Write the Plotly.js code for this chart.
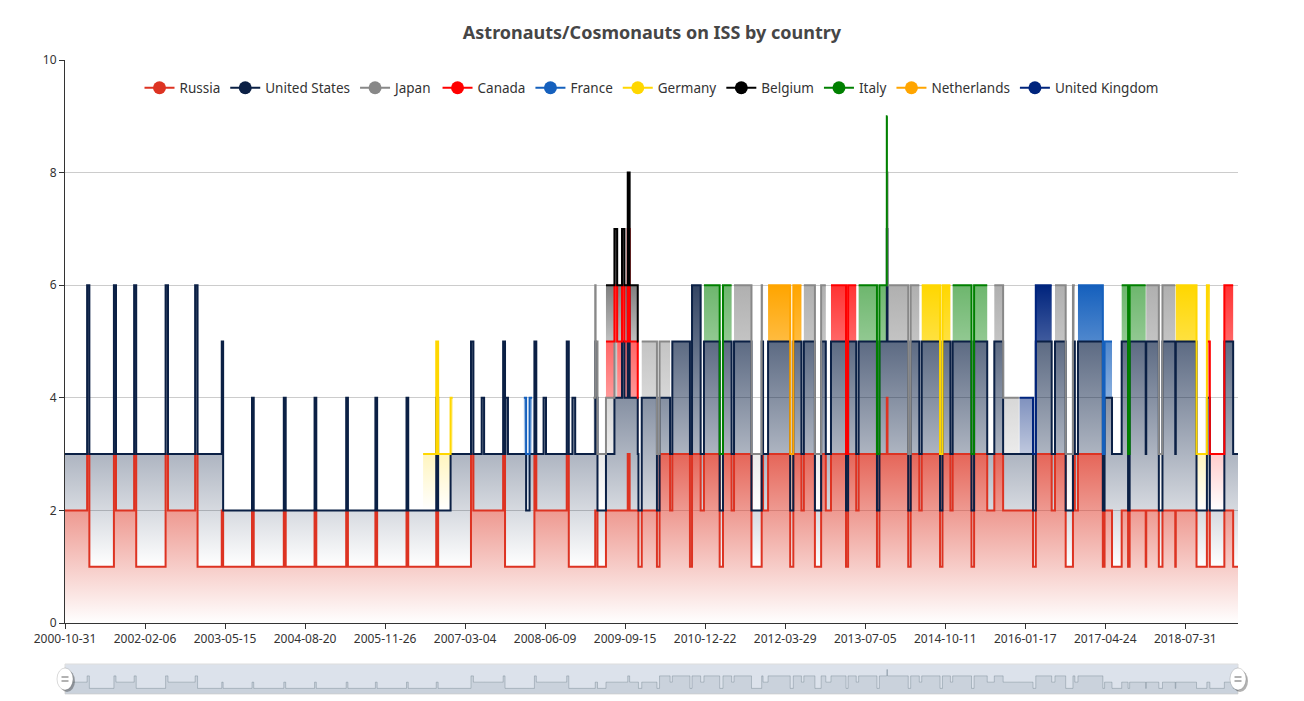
<!DOCTYPE html>
<html>
<head>
<meta charset="utf-8">
<script src="https://cdn.plot.ly/plotly-3.0.1.min.js"></script>
<style>html,body{margin:0;padding:0;background:#fff}#chart{width:1304px;height:701px}</style>
</head>
<body>
<div id="chart"></div>
<script>
// Start date of each crew configuration (value holds until the next date)
const dates = [
"2000-10-31","2001-03-08","2001-03-21","2001-08-10","2001-08-22","2001-12-05","2001-12-17","2002-06-05","2002-06-19","2002-11-23",
"2002-12-07","2003-04-26","2003-05-04","2003-10-18","2003-10-28","2004-04-19","2004-04-30","2004-10-14","2004-10-24","2005-04-15",
"2005-04-25","2005-10-01","2005-10-11","2006-03-30","2006-04-09","2006-07-04","2006-09-18","2006-09-29","2006-12-10","2006-12-22",
"2007-04-07","2007-04-21","2007-06-08","2007-06-22","2007-10-10","2007-10-21","2007-10-23","2007-11-07","2008-02-07","2008-02-20",
"2008-03-11","2008-03-26","2008-04-08","2008-04-19","2008-05-31","2008-06-14","2008-10-12","2008-10-24","2008-11-14","2008-11-30",
"2009-03-15","2009-03-26","2009-03-28","2009-04-08","2009-05-27","2009-07-15","2009-07-31","2009-08-28","2009-09-11","2009-09-30",
"2009-10-11","2009-11-27","2009-12-01","2009-12-20","2010-03-18","2010-04-02","2010-06-02","2010-06-15","2010-09-25","2010-10-07",
"2010-11-26","2010-12-15","2011-03-16","2011-04-04","2011-05-24","2011-06-07","2011-09-16","2011-11-14","2011-11-22","2011-12-21",
"2012-04-27","2012-05-15","2012-07-01","2012-07-15","2012-09-17","2012-10-23","2012-11-19","2012-12-19","2013-03-16","2013-03-28",
"2013-05-14","2013-05-28","2013-09-11","2013-09-25","2013-11-07","2013-11-11","2014-03-11","2014-03-25","2014-05-14","2014-05-28",
"2014-09-11","2014-09-25","2014-11-10","2014-11-23","2015-03-12","2015-03-27","2015-06-11","2015-07-22","2015-09-11","2015-12-11",
"2015-12-15","2016-03-02","2016-03-18","2016-06-18","2016-07-07","2016-09-07","2016-10-19","2016-10-30","2016-11-17","2017-04-10",
"2017-04-20","2017-06-02","2017-07-28","2017-09-03","2017-09-12","2017-12-14","2017-12-17","2018-02-28","2018-03-21","2018-06-03",
"2018-06-06","2018-10-04","2018-12-03","2018-12-20","2019-03-14","2019-05-04","2019-06-01"];

const russia = [
2,3,1,3,2,3,1,3,2,3, 1,2,1,2,1,2,1,2,1,2, 1,2,1,2,1,1,2,1,1,1, 3,2,2,2,3,1,1,1,1,1,
1,1,3,2,2,2,3,1,1,1, 1,2,2,1,2,2,2,2,2,3, 2,2,1,2,1,3,2,3,1,3, 2,3,1,3,2,3,1,3,2,3,
1,3,2,3,1,3,2,3,1,3, 2,3,1,3,4,3,1,3,2,3, 1,3,2,3,1,3,2,3,2,2, 2,1,3,2,3,1,3,2,3,1,
2,1,2,1,2,1,2,1,2,1, 2,1,2,1,2,1,1];
const unitedStates = [
1,3,2,3,1,3,2,3,1,3, 2,3,1,2,1,2,1,2,1,2, 1,2,1,2,1,1,2,1,2,2, 2,1,2,1,2,2,3,2,2,1,
2,2,2,1,2,1,2,2,3,2, 2,3,2,1,1,2,2,3,2,3, 2,1,1,2,1,1,1,2,2,3, 1,2,1,2,1,2,1,2,1,2,
1,2,1,2,1,2,1,2,1,2, 1,2,1,2,3,2,1,2,1,2, 1,2,1,2,1,2,1,2,1,1, 1,1,2,1,2,1,2,1,2,1,
2,2,3,1,3,2,3,1,3,2, 3,1,2,1,3,2,2];
const japan = [
0,0,0,0,0,0,0,0,0,0, 0,0,0,0,0,0,0,0,0,0, 0,0,0,0,0,0,0,0,0,0, 0,0,0,0,0,0,0,0,0,0,
0,0,0,0,0,0,0,0,0,0, 1,1,1,1,1,1,0,0,0,0, 0,0,0,1,1,1,0,0,0,0, 0,0,0,0,0,1,1,1,0,0,
0,0,0,1,1,1,0,0,0,0, 0,0,0,0,1,1,1,1,0,0, 0,0,0,0,0,0,0,1,1,0, 0,0,0,0,1,1,1,0,0,0,
0,0,0,0,0,0,1,1,1,0, 0,0,0,0,0,0,0];
const canada = [
0,0,0,0,0,0,0,0,0,0, 0,0,0,0,0,0,0,0,0,0, 0,0,0,0,0,0,0,0,0,0, 0,0,0,0,0,0,0,0,0,0,
0,0,0,0,0,0,0,0,0,0, 0,0,0,0,1,1,1,1,1,1, 1,1,0,0,0,0,0,0,0,0, 0,0,0,0,0,0,0,0,0,0,
0,0,0,0,0,0,0,1,1,1, 0,0,0,0,0,0,0,0,0,0, 0,0,0,0,0,0,0,0,0,0, 0,0,0,0,0,0,0,0,0,0,
0,0,0,0,0,0,0,0,0,0, 0,0,1,1,1,0,0];
const france = [
0,0,0,0,0,0,0,0,0,0, 0,0,0,0,0,0,0,0,0,0, 0,0,0,0,0,0,0,0,0,0, 0,0,0,0,0,0,0,0,1,1,
1,0,0,0,0,0,0,0,0,0, 0,0,0,0,0,0,0,0,0,0, 0,0,0,0,0,0,0,0,0,0, 0,0,0,0,0,0,0,0,0,0,
0,0,0,0,0,0,0,0,0,0, 0,0,0,0,0,0,0,0,0,0, 0,0,0,0,0,0,0,0,0,0, 0,0,0,0,0,0,0,0,1,1,
1,0,0,0,0,0,0,0,0,0, 0,0,0,0,0,0,0];
const germany = [
0,0,0,0,0,0,0,0,0,0, 0,0,0,0,0,0,0,0,0,0, 0,0,0,0,0,1,1,1,1,0, 0,0,0,0,0,0,0,0,0,0,
0,0,0,0,0,0,0,0,0,0, 0,0,0,0,0,0,0,0,0,0, 0,0,0,0,0,0,0,0,0,0, 0,0,0,0,0,0,0,0,0,0,
0,0,0,0,0,0,0,0,0,0, 0,0,0,0,0,0,0,0,0,1, 1,1,0,0,0,0,0,0,0,0, 0,0,0,0,0,0,0,0,0,0,
0,0,0,0,0,0,0,0,0,0, 1,1,1,0,0,0,0];
const belgium = [
0,0,0,0,0,0,0,0,0,0, 0,0,0,0,0,0,0,0,0,0, 0,0,0,0,0,0,0,0,0,0, 0,0,0,0,0,0,0,0,0,0,
0,0,0,0,0,0,0,0,0,0, 0,0,0,0,1,1,1,1,1,1, 1,1,0,0,0,0,0,0,0,0, 0,0,0,0,0,0,0,0,0,0,
0,0,0,0,0,0,0,0,0,0, 0,0,0,0,0,0,0,0,0,0, 0,0,0,0,0,0,0,0,0,0, 0,0,0,0,0,0,0,0,0,0,
0,0,0,0,0,0,0,0,0,0, 0,0,0,0,0,0,0];
const italy = [
0,0,0,0,0,0,0,0,0,0, 0,0,0,0,0,0,0,0,0,0, 0,0,0,0,0,0,0,0,0,0, 0,0,0,0,0,0,0,0,0,0,
0,0,0,0,0,0,0,0,0,0, 0,0,0,0,0,0,0,0,0,0, 0,0,0,0,0,0,0,0,0,0, 0,1,1,1,0,0,0,0,0,0,
0,0,0,0,0,0,0,0,0,0, 0,1,1,1,1,0,0,0,0,0, 0,0,0,1,1,1,0,0,0,0, 0,0,0,0,0,0,0,0,0,0,
0,0,1,1,1,0,0,0,0,0, 0,0,0,0,0,0,0];
const netherlands = [
0,0,0,0,0,0,0,0,0,0, 0,0,0,0,0,0,0,0,0,0, 0,0,0,0,0,0,0,0,0,0, 0,0,0,0,0,0,0,0,0,0,
0,0,0,0,0,0,0,0,0,0, 0,0,0,0,0,0,0,0,0,0, 0,0,0,0,0,0,0,0,0,0, 0,0,0,0,0,0,0,0,0,1,
1,1,0,0,0,0,0,0,0,0, 0,0,0,0,0,0,0,0,0,0, 0,0,0,0,0,0,0,0,0,0, 0,0,0,0,0,0,0,0,0,0,
0,0,0,0,0,0,0,0,0,0, 0,0,0,0,0,0,0];
const unitedKingdom = [
0,0,0,0,0,0,0,0,0,0, 0,0,0,0,0,0,0,0,0,0, 0,0,0,0,0,0,0,0,0,0, 0,0,0,0,0,0,0,0,0,0,
0,0,0,0,0,0,0,0,0,0, 0,0,0,0,0,0,0,0,0,0, 0,0,0,0,0,0,0,0,0,0, 0,0,0,0,0,0,0,0,0,0,
0,0,0,0,0,0,0,0,0,0, 0,0,0,0,0,0,0,0,0,0, 0,0,0,0,0,0,0,0,0,0, 1,1,1,0,0,0,0,0,0,0,
0,0,0,0,0,0,0,0,0,0, 0,0,0,0,0,0,0];

const countryNames = ["Russia","United States","Japan","Canada","France","Germany","Belgium","Italy","Netherlands","United Kingdom"];
const countryValues = [russia, unitedStates, japan, canada, france, germany, belgium, italy, netherlands, unitedKingdom];
const countryColors = ["#dd3322","#0b2045","#888888","#ff0000","#1560bd","#ffd700","#000000","#008000","#ffa500","#00247d"];

const tickDates = ["2000-10-31","2002-02-06","2003-05-15","2004-08-20","2005-11-26","2007-03-04","2008-06-09",
  "2009-09-15","2010-12-22","2012-03-29","2013-07-05","2014-10-11","2016-01-17","2017-04-24","2018-07-31"];
const xRange = ["2000-10-31","2019-06-01"];

function rgbOf(hex){
  const h = hex.replace('#','');
  return [0,2,4].map(i=>parseInt(h.substr(i,2),16)).join(',');
}

const n = dates.length;
let base = dates.map(()=>0);
const fillTraces = [], lineTraces = [], legendTraces = [];
countryNames.forEach((name, ci)=>{
  const vals = countryValues[ci];
  const col = countryColors[ci];
  const rgb = rgbOf(col);
  const top = base.map((b,i)=>b+vals[i]);
  let lo = Infinity, hi = -Infinity;
  vals.forEach((v,i)=>{ if(v>0){ lo=Math.min(lo,base[i]); hi=Math.max(hi,top[i]); } });
  fillTraces.push({
    type:'scatter', x:dates, y:vals, stackgroup:'crew', mode:'lines',
    line:{width:0, shape:'hv'},
    fillgradient:{type:'vertical', start:lo, stop:hi,
      colorscale:[[0,'rgba('+rgb+',0)'],[1,'rgba('+rgb+',1)']]},
    showlegend:false, hoverinfo:'skip', legendgroup:name
  });
  const lx=[], ly=[];
  for(let i=0;i<n;i++){
    if(vals[i]>0){ lx.push(dates[i]); ly.push(top[i]); }
    else if(i>0 && vals[i-1]>0){ lx.push(dates[i]); ly.push(top[i-1]); lx.push(dates[i]); ly.push(null); }
  }
  lineTraces.push({
    type:'scatter', x:lx, y:ly, mode:'lines', connectgaps:false,
    line:{color:col, width:2, shape:'hv'}, showlegend:false, hoverinfo:'skip', legendgroup:name
  });
  legendTraces.push({
    type:'scatter', x:[null], y:[null], mode:'lines+markers', name:name, legendgroup:name,
    line:{color:col, width:2}, marker:{color:col, size:13}
  });
  base = top;
});

// data shadow in the zoom slider (first series)
const shadowTrace = {
  type:'scatter', x:dates, y:russia, xaxis:'x2', yaxis:'y2', mode:'lines',
  line:{shape:'hv', color:'rgba(47,69,84,0.3)', width:0.8}, fill:'tozeroy',
  fillcolor:'rgba(47,69,84,0.10)', showlegend:false, hoverinfo:'skip'
};

function handle(xp){
  return [
    {type:'circle', xref:'paper', yref:'y2 domain', xsizemode:'pixel', ysizemode:'pixel',
      xanchor:xp, yanchor:0.5, x0:-6, x1:10, y0:-13, y1:9, fillcolor:'rgba(0,0,0,0.30)', line:{width:0}},
    {type:'circle', xref:'paper', yref:'y2 domain', xsizemode:'pixel', ysizemode:'pixel',
      xanchor:xp, yanchor:0.5, x0:-8, x1:8, y0:-11, y1:11, fillcolor:'#ffffff', line:{color:'rgba(0,0,0,0.15)', width:1}},
    {type:'line', xref:'paper', yref:'y2 domain', xsizemode:'pixel', ysizemode:'pixel',
      xanchor:xp, yanchor:0.5, x0:-3.5, x1:3.5, y0:2, y1:2, line:{color:'#888', width:1.3}},
    {type:'line', xref:'paper', yref:'y2 domain', xsizemode:'pixel', ysizemode:'pixel',
      xanchor:xp, yanchor:0.5, x0:-3.5, x1:3.5, y0:-2, y1:-2, line:{color:'#888', width:1.3}}
  ];
}

const fontFam = '"Noto Sans", "Open Sans", sans-serif';
const layout = {
  width:1304, height:701,
  margin:{l:65, r:66, t:60, b:7},
  paper_bgcolor:'#ffffff', plot_bgcolor:'#ffffff',
  font:{family:fontFam, color:'#333', size:12},
  title:{text:'Astronauts/Cosmonauts on ISS by country', x:0.5, xanchor:'center',
    y:1-33/701, yanchor:'middle', yref:'container',
    font:{family:fontFam, size:18, weight:700, color:'#464646'}},
  showlegend:true,
  legend:{orientation:'h', x:0.5, xanchor:'center', y:(694-88)/634, yanchor:'middle',
    font:{family:fontFam, size:13.5, color:'#333'}, bgcolor:'rgba(0,0,0,0)', itemwidth:30,
    traceorder:'normal'},
  xaxis:{type:'date', range:xRange, domain:[0,1], anchor:'y',
    tickvals:tickDates, tickformat:'%Y-%m-%d', ticks:'outside', ticklen:5, tickcolor:'#333',
    showline:true, linecolor:'#333', linewidth:1, showgrid:false, zeroline:false,
    tickfont:{size:12, color:'#333'}, fixedrange:true},
  yaxis:{range:[0,10], domain:[(694-623)/634, 1], anchor:'x', dtick:2, tick0:0,
    ticks:'outside', ticklen:5, tickcolor:'#333', showline:true, linecolor:'#333', linewidth:1,
    gridcolor:'#cccccc', zeroline:false, tickfont:{size:12, color:'#333'}, fixedrange:true},
  xaxis2:{type:'date', range:xRange, domain:[0,1], anchor:'y2', visible:false, fixedrange:true},
  yaxis2:{range:[0.1,4.9], domain:[0, 30/634], anchor:'x2', visible:false, fixedrange:true},
  shapes:[
    {type:'rect', xref:'paper', yref:'y2 domain', x0:0, x1:1, y0:0, y1:1,
      fillcolor:'rgba(167,183,204,0.4)', line:{color:'#dddddd', width:1}, layer:'below'}
  ].concat(handle(0), handle(1))
};

Plotly.newPlot('chart', fillTraces.concat(lineTraces, [shadowTrace], legendTraces), layout,
  {displayModeBar:false, staticPlot:true});
</script>
</body>
</html>
